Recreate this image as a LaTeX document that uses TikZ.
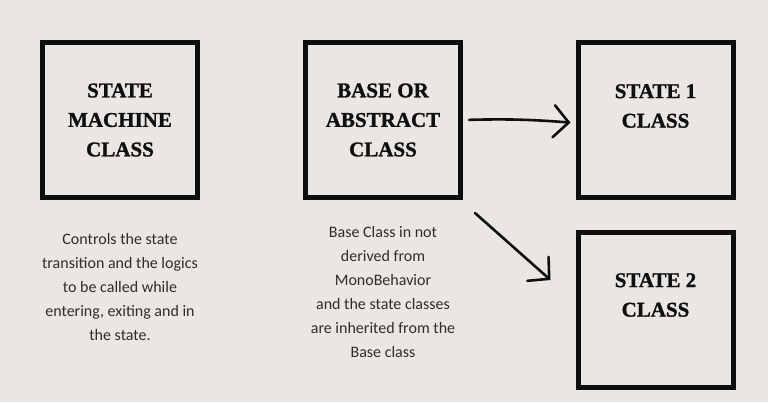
\documentclass[tikz,border=0pt]{standalone}
\usepackage{fontspec}
\setmainfont{Liberation Serif}[BoldFeatures={FakeBold=1.2}]
\newfontfamily\notefont{Carlito}
\usetikzlibrary{arrows.meta}
\definecolor{paper}{RGB}{234,230,227}
\definecolor{ink}{RGB}{15,15,15}
\definecolor{notegray}{RGB}{45,45,45}

\begin{document}
\begin{tikzpicture}[x=1pt,y=1pt,
    classbox/.style={draw=ink, line width=5pt, minimum size=155pt, inner sep=0pt},
    classtitle/.style={align=center, text=ink, font=\fontsize{21}{29.5}\selectfont\bfseries},
    classnote/.style={align=center, text=notegray, font=\notefont\fontsize{16}{24}\selectfont},
    inherit/.style={draw=ink, line width=2.6pt, line cap=round,
      -{Straight Barb[length=15pt, width=32pt, line cap=round]}}]
                  % Fond
                  \fill[paper] (0,0) rectangle (768,-402);
                  \useasboundingbox (0,0) rectangle (768,-402);

                  % Boites
                  \node[classbox, classtitle] (machine) at (120,-120) {STATE\\MACHINE\\CLASS};
                  \node[classbox, classtitle] (base) at (383,-120) {BASE OR\\ABSTRACT\\CLASS};
                  \node[classbox] (state1) at (655.5,-120) {};
                  \node[classbox] (state2) at (655.5,-310) {};
                  \node[classtitle] (state1title) at ([yshift=14pt]state1.center) {STATE 1\\CLASS};
                  \node[classtitle] (state2title) at ([yshift=15pt]state2.center) {STATE 2\\CLASS};

                  % Textes
                  \node[classnote] (machinenote) at (120,-287) {Controls the state\\transition and the logics\\to be called while\\entering, exiting and in\\the state.};
                  \node[classnote] (basenote) at (383,-292) {Base Class in not\\derived from\\MonoBehavior\\and the state classes\\are inherited from the\\Base class};

                  % Fleches
                  \draw[inherit, shorten <=6pt, shorten >=5pt] (base.east) to[bend left=3] ([yshift=-3pt]state1.west);
                  \draw[inherit] ([xshift=12pt,yshift=-13pt]base.south east) -- ([xshift=-25pt,yshift=-50pt]state2.north west);
              \end{tikzpicture}
\end{document}
